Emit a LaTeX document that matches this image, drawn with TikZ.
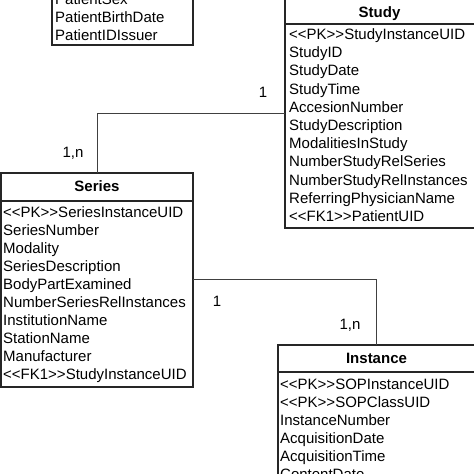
\documentclass[tikz,border=0pt]{standalone}
\usepackage{fontspec}
\setmainfont{Liberation Sans}
\begin{document}
\begin{tikzpicture}[x=1pt,y=-1pt,
  box/.style={draw=black!85,line width=1.3pt},
  sep/.style={draw=black!85,line width=1.2pt},
  row/.style={anchor=base west,inner sep=0pt,font=\fontsize{15}{18}\selectfont},
  title/.style={anchor=base,inner sep=0pt,font=\fontsize{15}{18}\selectfont\bfseries},
  conn/.style={draw=black!75,line width=0.9pt},
  card/.style={inner sep=0pt,font=\fontsize{15}{18}\selectfont}]
\useasboundingbox (0,0) rectangle (474,474);
\clip (0,0) rectangle (474,474);
% Patient (cut off)
\draw[box] (52,-20) rectangle (193,45);
\foreach \t [count=\i] in {PatientSex,PatientBirthDate,PatientIDIssuer}
  \node[row] (pa\i) at (55,{-1.5+18.2*(\i-1)+5.5}) {\t};
% Study
\draw[box] (285,-20) rectangle (475,228);
\draw[sep] (285,24) -- (475,24);
\node[title] (sttitle) at (379.5,17.5) {Study};
\foreach \t [count=\i] in {{<}{<}PK{>}{>}StudyInstanceUID,StudyID,StudyDate,StudyTime,AccesionNumber,StudyDescription,ModalitiesInStudy,NumberStudyRelSeries,NumberStudyRelInstances,ReferringPhysicianName,{<}{<}FK1{>}{>}PatientUID}
  \node[row] (st\i) at (289,{34+18.2*(\i-1)+5.5}) {\t};
% Series
\draw[box] (1,173) rectangle (193,387);
\draw[sep] (1,201) -- (193,201);
\node[title] (setitle) at (97,191.5) {Series};
\foreach \t [count=\i] in {{<}{<}PK{>}{>}SeriesInstanceUID,SeriesNumber,Modality,SeriesDescription,BodyPartExamined,NumberSeriesRelInstances,InstitutionName,StationName,Manufacturer,{<}{<}FK1{>}{>}StudyInstanceUID}
  \node[row] (se\i) at (3,{211.7+18.05*(\i-1)+5.5}) {\t};
% Instance
\draw[box] (278,345) rectangle (476,500);
\draw[sep] (278,372) -- (476,372);
\node[title] (intitle) at (376.5,363.5) {Instance};
\foreach \t [count=\i] in {{<}{<}PK{>}{>}SOPInstanceUID,{<}{<}PK{>}{>}SOPClassUID,InstanceNumber,AcquisitionDate,AcquisitionTime,ContentDate}
  \node[row] (in\i) at (280,{384+18*(\i-1)+5.5}) {\t};
% connectors
\coordinate (seTop) at (97,173);
\coordinate (stLeft) at (285,113);
\coordinate (seRight) at (193,279);
\coordinate (inTop) at (376,345);
\draw[conn] (seTop) |- (stLeft);
\draw[conn] (seRight) -| (inTop);
\node[card] (c1) at (263,92) {1};
\node[card] (c2) at (73,153) {1,n};
\node[card] (c3) at (217,301) {1};
\node[card] (c4) at (350,325) {1,n};
\end{tikzpicture}
\end{document}
